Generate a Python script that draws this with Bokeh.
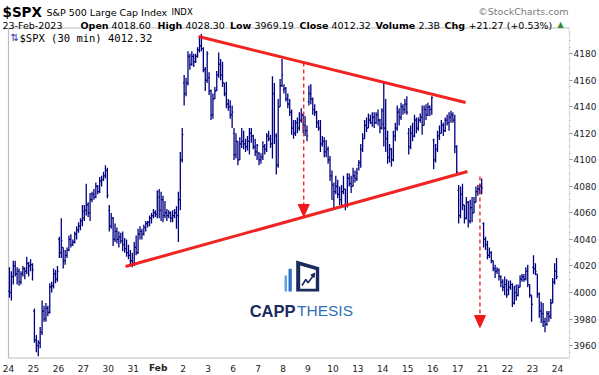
import numpy as np
from bokeh.plotting import figure
from bokeh.models import Range1d, FixedTicker, Label, ColumnDataSource
from bokeh.embed import file_html
from bokeh.resources import INLINE

# ---------------- data (30-min OHLC bars, 13 per session) ----------------
day_labels = ["24", "25", "26", "27", "30", "31", "Feb", "2", "3", "6", "7", "8",
              "9", "10", "13", "14", "15", "16", "17", "21", "22", "23", "24"]

opens = [
    4001, 4000, 4012, 4020, 4014, 4016, 4008, 4014, 4018, 4016, 4022, 4020, 4021,  # Jan 24
    3986, 3964, 3960, 3962, 3970, 3986, 3980, 3988, 3985, 4004, 4005, 4014, 4010,  # Jan 25
    4040, 4030, 4034, 4024, 4028, 4032, 4040, 4036, 4038, 4044, 4047, 4050, 4054,  # Jan 26
    4056, 4062, 4066, 4060, 4070, 4074, 4072, 4080, 4076, 4084, 4085, 4088, 4092,  # Jan 27
    4062, 4050, 4056, 4040, 4046, 4040, 4042, 4039, 4036, 4033, 4030, 4028, 4024,  # Jan 30
    4022, 4034, 4030, 4044, 4046, 4044, 4049, 4052, 4053, 4056, 4058, 4060, 4059,  # Jan 31
    4072, 4062, 4070, 4058, 4060, 4058, 4060, 4056, 4058, 4060, 4058, 4070, 4100,  # Feb 1
    4158, 4150, 4158, 4178, 4172, 4178, 4174, 4178, 4183, 4186, 4184, 4168, 4160,  # Feb 2
    4162, 4152, 4134, 4146, 4152, 4164, 4172, 4164, 4158, 4150, 4142, 4140, 4134,  # Feb 3
    4120, 4104, 4114, 4100, 4112, 4114, 4112, 4110, 4114, 4120, 4118, 4110, 4106,  # Feb 6
    4105, 4100, 4102, 4110, 4108, 4118, 4116, 4112, 4150, 4118, 4096, 4140, 4156,  # Feb 7
    4153, 4154, 4146, 4142, 4136, 4124, 4120, 4128, 4124, 4130, 4134, 4126, 4122,  # Feb 8
    4144, 4150, 4146, 4138, 4136, 4128, 4124, 4112, 4114, 4106, 4108, 4100, 4088,  # Feb 9
    4070, 4076, 4080, 4074, 4070, 4076, 4078, 4066, 4086, 4082, 4080, 4088, 4086,  # Feb 10
    4096, 4098, 4108, 4116, 4126, 4124, 4130, 4128, 4132, 4128, 4134, 4130, 4124,  # Feb 13
    4127, 4124, 4116, 4102, 4108, 4100, 4118, 4124, 4136, 4132, 4140, 4138, 4142,  # Feb 14
    4120, 4110, 4120, 4118, 4130, 4124, 4130, 4132, 4126, 4138, 4134, 4140, 4138,  # Feb 15
    4115, 4100, 4108, 4118, 4120, 4126, 4122, 4130, 4128, 4132, 4134, 4130, 4110,  # Feb 16
    4077, 4058, 4074, 4066, 4056, 4068, 4054, 4064, 4060, 4068, 4076, 4078, 4080,  # Feb 17
    4052, 4040, 4036, 4028, 4030, 4024, 4018, 4016, 4017, 4012, 4008, 4004, 4006,  # Feb 21
    4002, 4004, 4006, 3992, 4000, 3998, 4004, 4010, 4012, 4010, 4016, 4006, 3998,  # Feb 22
    4019, 4018, 4014, 3999, 3986, 3984, 3978, 3976, 3984, 3982, 3992, 4008, 4016,  # Feb 23
]
highs = [
    4019, 4016, 4024, 4024, 4019, 4018, 4016, 4020, 4019, 4027, 4023, 4025, 4022,
    3988, 3968, 3964, 3974, 3994, 3990, 3992, 3990, 4007, 4008, 4018, 4017, 4020,
    4042, 4056, 4034, 4032, 4034, 4043, 4044, 4040, 4046, 4050, 4053, 4056, 4066,
    4066, 4082, 4068, 4075, 4076, 4078, 4083, 4081, 4087, 4088, 4091, 4096, 4094,
    4066, 4060, 4057, 4052, 4049, 4046, 4045, 4046, 4041, 4040, 4036, 4032, 4030,
    4038, 4043, 4048, 4050, 4048, 4051, 4054, 4054, 4058, 4060, 4063, 4062, 4077,
    4078, 4076, 4073, 4069, 4063, 4062, 4061, 4062, 4063, 4065, 4076, 4106, 4124,
    4164, 4162, 4182, 4180, 4182, 4180, 4180, 4185, 4193, 4195, 4185, 4170, 4182,
    4166, 4153, 4150, 4155, 4167, 4181, 4176, 4174, 4158, 4159, 4146, 4145, 4141,
    4124, 4120, 4114, 4117, 4124, 4122, 4116, 4118, 4124, 4124, 4119, 4116, 4112,
    4106, 4105, 4114, 4112, 4120, 4122, 4119, 4163, 4158, 4120, 4146, 4161, 4176,
    4157, 4155, 4150, 4146, 4138, 4130, 4130, 4132, 4136, 4139, 4135, 4133, 4126,
    4156, 4157, 4147, 4142, 4137, 4130, 4130, 4118, 4117, 4115, 4110, 4103, 4092,
    4083, 4088, 4085, 4080, 4081, 4088, 4078, 4090, 4090, 4088, 4094, 4092, 4094,
    4100, 4112, 4120, 4130, 4132, 4135, 4134, 4136, 4136, 4136, 4138, 4131, 4139,
    4159, 4146, 4122, 4112, 4109, 4122, 4128, 4141, 4139, 4143, 4142, 4146, 4148,
    4124, 4126, 4128, 4134, 4132, 4132, 4135, 4141, 4141, 4142, 4143, 4141, 4148,
    4116, 4112, 4122, 4126, 4130, 4128, 4132, 4134, 4136, 4137, 4136, 4134, 4111,
    4081, 4080, 4082, 4066, 4072, 4069, 4070, 4072, 4072, 4080, 4081, 4082, 4086,
    4053, 4042, 4039, 4034, 4031, 4024, 4021, 4019, 4018, 4013, 4010, 4012, 4010,
    4009, 4009, 4007, 4005, 4006, 4006, 4013, 4014, 4014, 4019, 4021, 4006, 3998,
    4028, 4022, 4014, 4000, 3993, 3992, 3981, 3986, 3986, 3995, 4011, 4022, 4026,
]
lows = [
    3996, 3994, 4006, 4012, 4006, 4005, 4006, 4012, 4010, 4014, 4012, 4016, 4009,
    3962, 3955, 3952, 3958, 3968, 3978, 3978, 3982, 3984, 4000, 4003, 4007, 4008,
    4026, 4026, 4018, 4021, 4026, 4031, 4034, 4035, 4037, 4040, 4045, 4047, 4050,
    4054, 4058, 4057, 4054, 4068, 4070, 4071, 4074, 4075, 4080, 4084, 4086, 4071,
    4046, 4048, 4035, 4038, 4037, 4034, 4037, 4031, 4030, 4027, 4025, 4020, 4019,
    4020, 4028, 4029, 4040, 4040, 4043, 4046, 4049, 4050, 4052, 4056, 4057, 4056,
    4056, 4054, 4053, 4056, 4054, 4056, 4053, 4053, 4056, 4048, 4038, 4062, 4098,
    4141, 4148, 4156, 4168, 4171, 4170, 4173, 4177, 4181, 4182, 4166, 4152, 4158,
    4149, 4130, 4131, 4146, 4152, 4162, 4160, 4155, 4148, 4139, 4137, 4131, 4124,
    4100, 4101, 4096, 4100, 4109, 4108, 4106, 4107, 4104, 4113, 4108, 4103, 4100,
    4096, 4097, 4100, 4104, 4106, 4114, 4109, 4101, 4112, 4089, 4094, 4140, 4155,
    4150, 4144, 4139, 4133, 4119, 4116, 4118, 4120, 4122, 4128, 4120, 4118, 4114,
    4141, 4142, 4134, 4133, 4124, 4122, 4106, 4110, 4102, 4102, 4097, 4084, 4070,
    4064, 4074, 4071, 4066, 4065, 4074, 4062, 4064, 4080, 4075, 4080, 4083, 4084,
    4092, 4094, 4106, 4116, 4121, 4124, 4127, 4125, 4124, 4127, 4126, 4120, 4123,
    4110, 4106, 4097, 4098, 4095, 4099, 4114, 4122, 4126, 4130, 4134, 4135, 4134,
    4104, 4108, 4114, 4117, 4120, 4122, 4128, 4119, 4126, 4130, 4133, 4133, 4134,
    4093, 4098, 4106, 4115, 4120, 4118, 4121, 4126, 4122, 4128, 4128, 4105, 4090,
    4052, 4056, 4062, 4052, 4055, 4049, 4052, 4053, 4060, 4068, 4073, 4074, 4074,
    4034, 4032, 4025, 4026, 4022, 4016, 4011, 4014, 4009, 4004, 4001, 3998, 3996,
    3998, 4002, 3989, 3991, 3994, 3997, 4004, 4008, 4008, 4009, 4004, 3996, 3978,
    4014, 4013, 3996, 3981, 3977, 3974, 3970, 3975, 3978, 3980, 3992, 4006, 4010,
]
closes = [
    4000, 4012, 4020, 4014, 4016, 4008, 4014, 4018, 4016, 4022, 4020, 4021, 4017,
    3964, 3960, 3962, 3970, 3986, 3980, 3988, 3985, 4004, 4005, 4014, 4010, 4016,
    4030, 4039, 4024, 4028, 4032, 4040, 4036, 4038, 4044, 4047, 4050, 4054, 4061,
    4062, 4066, 4060, 4070, 4074, 4072, 4080, 4076, 4084, 4085, 4088, 4092, 4073,
    4050, 4056, 4040, 4046, 4040, 4042, 4039, 4036, 4033, 4030, 4028, 4024, 4021,
    4034, 4030, 4044, 4046, 4044, 4049, 4052, 4053, 4056, 4058, 4060, 4059, 4076,
    4062, 4070, 4058, 4060, 4058, 4060, 4056, 4058, 4060, 4058, 4070, 4100, 4119,
    4150, 4158, 4178, 4172, 4178, 4174, 4178, 4183, 4186, 4184, 4168, 4160, 4180,
    4152, 4134, 4146, 4152, 4164, 4172, 4164, 4158, 4150, 4142, 4140, 4134, 4136,
    4104, 4114, 4100, 4112, 4114, 4112, 4110, 4114, 4120, 4118, 4110, 4106, 4111,
    4100, 4102, 4110, 4108, 4118, 4116, 4112, 4150, 4118, 4096, 4140, 4156, 4164,
    4154, 4146, 4142, 4136, 4124, 4120, 4128, 4124, 4130, 4134, 4126, 4122, 4118,
    4150, 4146, 4138, 4136, 4128, 4124, 4112, 4114, 4106, 4108, 4100, 4088, 4081,
    4076, 4080, 4074, 4070, 4076, 4078, 4066, 4086, 4082, 4080, 4088, 4086, 4090,
    4098, 4108, 4116, 4126, 4124, 4130, 4128, 4132, 4128, 4134, 4130, 4124, 4137,
    4124, 4116, 4102, 4108, 4100, 4118, 4124, 4136, 4132, 4140, 4138, 4142, 4136,
    4110, 4120, 4118, 4130, 4124, 4130, 4132, 4126, 4138, 4134, 4140, 4138, 4147,
    4100, 4108, 4118, 4120, 4126, 4122, 4130, 4128, 4132, 4134, 4130, 4110, 4091,
    4058, 4074, 4066, 4056, 4068, 4054, 4064, 4060, 4068, 4076, 4078, 4080, 4079,
    4040, 4036, 4028, 4030, 4024, 4018, 4016, 4017, 4012, 4008, 4004, 4006, 3998,
    4004, 4006, 3992, 4000, 3998, 4004, 4010, 4012, 4010, 4016, 4006, 3998, 3991,
    4018, 4016, 3999, 3986, 3984, 3978, 3976, 3984, 3982, 3992, 4008, 4016, 4012,
]
y_ticks = [3960, 3980, 4000, 4020, 4040, 4060, 4080, 4100, 4120, 4140, 4160, 4180]

# annotations drawn by the analyst: (bar position, price)
upper_trend = [(99.0, 4193.0), (238.1, 4143.3)]
lower_trend = [(61.0, 4019.6), (239.1, 4091.2)]
target_1 = (153.8, 4173.4, 4057.3)   # x, top, arrow tip
target_2 = (245.6, 4087.5, 3973.6)

# ---------------- layout constants ----------------
BARS_PER_DAY = 13
W, H = 599, 375
RB = 30                  # right border (price axis)
BOX_L, BOX_T, BOX_R, BOX_B = 8, 27.5, 569, 357.5   # chart box in px
PXU = 1.9196             # px per bar
PPU = 1.326              # px per index point
Y4180 = 53.3             # px position of the 4180 tick

def dx(X):   # screen px -> data x
    return (X - BOX_L) / PXU

def dy(Y):   # screen px -> data y
    return 4180 + (Y4180 - Y) / PPU

n = len(closes)
xs = np.arange(n) + 0.5
src = ColumnDataSource(dict(x=xs, o=opens, h=highs, l=lows, c=closes,
                            xl=xs - 0.6, xr=xs + 0.6))

p = figure(width=W, height=H, x_range=Range1d(dx(0), dx(W - RB)), y_range=Range1d(dy(H), dy(0)),
           x_axis_location=None, y_axis_location="right",
           output_backend="svg", toolbar_location=None,
           min_border_left=0, min_border_top=0, min_border_bottom=0, min_border_right=RB)
p.background_fill_color = "white"
p.border_fill_color = "white"
p.outline_line_color = None
p.grid.visible = False

ax = p.yaxis[0]
ax.ticker = FixedTicker(ticks=y_ticks, minor_ticks=list(range(3955, 4200, 5)))
ax.axis_line_color = None
ax.major_tick_line_color = "#888888"
ax.major_tick_out = 3
ax.major_tick_in = 0
ax.minor_tick_line_color = "#b0b0b0"
ax.minor_tick_out = 1
ax.minor_tick_in = 0
ax.major_label_standoff = 1
ax.major_label_text_font = "DejaVu Sans"
ax.major_label_text_font_size = "9px"
ax.major_label_text_color = "#222222"

# chart box
p.quad(left=[dx(BOX_L)], right=[dx(BOX_R)], top=[dy(BOX_T)], bottom=[dy(BOX_B)],
       fill_color=None, line_color="#bdbdbd", line_width=1.2)

BAR = "#000080"
p.segment(x0="x", y0="l", x1="x", y1="h", source=src, line_color=BAR, line_width=1.3)
p.segment(x0="xl", y0="o", x1="x", y1="o", source=src, line_color=BAR, line_width=1.2)
p.segment(x0="x", y0="c", x1="xr", y1="c", source=src, line_color=BAR, line_width=1.2)

RED = "#f01818"
for (a, b) in (upper_trend, lower_trend):
    p.line([a[0], b[0]], [a[1], b[1]], line_color=RED, line_width=3, line_alpha=0.95)

for (tx, top, tip) in (target_1, target_2):
    base = tip + 12 / PPU
    p.line([tx, tx], [top, base], line_color=RED, line_width=1.3, line_dash="4 3")
    hw = 5.5 / PXU
    p.patch([tx - hw, tx + hw, tx], [base, base, tip], fill_color=RED, line_color=RED)

# ---------------- CAPPTHESIS logo ----------------
NAVY, MID, LIGHT = "#1c2b5e", "#2f72c4", "#5aa6e6"
p.quad(left=[dx(284)], right=[dx(286.5)], top=[dy(275)], bottom=[dy(291)], fill_color=LIGHT, line_color=None)
p.quad(left=[dx(288)], right=[dx(291.3)], top=[dy(268.3)], bottom=[dy(291)], fill_color=MID, line_color=None)
p.patch([dx(295.7), dx(318.7), dx(318.7), dx(295.7)], [dy(260), dy(266.7), dy(291), dy(291)],
        fill_color=NAVY, line_color=None)
p.patch([dx(299.7), dx(315.3), dx(315.3), dx(299.7)], [dy(265), dy(269.5), dy(288.3), dy(288.3)],
        fill_color="white", line_color=None)
p.line([dx(301.5), dx(305.3), dx(307.5), dx(312.5)], [dy(285), dy(279), dy(282.3), dy(275.5)],
       line_color=NAVY, line_width=1.6)
p.patch([dx(310.3), dx(314.2), dx(313.6)], [dy(274.6), dy(272.6), dy(277.0)], fill_color=NAVY, line_color=NAVY)

def lab(text, X, Y, size, style="normal", color="#000000", font="DejaVu Sans", align="left", baseline="alphabetic"):
    p.add_layout(Label(x=dx(X), y=dy(Y), text=text, text_font=font, text_font_size=size,
                       text_font_style=style, text_color=color, text_align=align,
                       text_baseline=baseline))

lab("CAPP", 295.0, 310.2, "16.5px", "bold", NAVY, "Liberation Sans", "right")
lab("THESIS", 296.5, 310.2, "15.5px", "normal", "#2f6fb8", "Liberation Sans")

# ---------------- header ----------------
lab("$SPX", 2, 11.5, "13.5px", "bold")
lab("S&P 500 Large Cap Index", 46, 11.5, "9.5px")
lab("INDX", 171, 11.5, "8.5px")
lab("\u00a9StockCharts.com", 568, 10.5, "9.5px", color="#7a7a7a", align="right")
segs = [("23-Feb-2023", 2, "normal"), ("Open", 80, "bold"), ("4018.60", 111, "normal"),
        ("High", 157, "bold"), ("4028.30", 185, "normal"), ("Low", 229.5, "bold"),
        ("3969.19", 254, "normal"), ("Close", 299, "bold"), ("4012.32", 331, "normal"),
        ("Volume", 375, "bold"), ("2.3B", 418, "normal"), ("Chg", 444, "bold"),
        ("+21.27 (+0.53%)", 468, "normal")]
for t, X, st in segs:
    lab(t, X, 24.5, "9.5px", st)
lab("\u25b2", 557, 24, "8px", color="#2e8b2e")
lab("\u21c5", 10, 37, "10px", color="#2233aa")
lab("$SPX (30 min) 4012.32", 19, 37, "10.5px", font="DejaVu Sans Mono")

# ---------------- x-axis day labels ----------------
for d, t in enumerate(day_labels):
    p.add_layout(Label(x=d * BARS_PER_DAY, y=dy(367.5), text=t, text_font="DejaVu Sans",
                       text_font_size="9px", text_font_style="bold" if t == "Feb" else "normal",
                       text_color="#222222", text_align="center", text_baseline="alphabetic"))

open("out.html", "w").write(file_html(p, INLINE))
